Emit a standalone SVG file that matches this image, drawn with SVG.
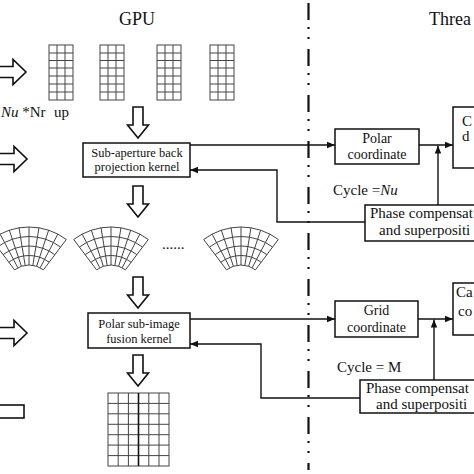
<svg xmlns="http://www.w3.org/2000/svg" xmlns:xlink="http://www.w3.org/1999/xlink" width="474" height="474" viewBox="0 0 474 474">
<style>
text{font-family:"Liberation Serif","DejaVu Serif",serif;fill:#111}
.box{fill:#fff;stroke:#111;stroke-width:1.5}
.hol{fill:#fff;stroke:#111;stroke-width:1.6;stroke-linejoin:miter}
.con{fill:none;stroke:#111;stroke-width:1.4}
.grid{fill:none;stroke:#444;stroke-width:1}
.t12{font-size:12.5px}
.t13{font-size:14px}
.t14{font-size:15px}
</style>
<defs>
<marker id="ah" viewBox="0 0 8 8" refX="8" refY="4" markerWidth="8" markerHeight="8" markerUnits="userSpaceOnUse" orient="auto">
<path d="M0,0.8 L8,4 L0,7.2 Z" fill="#111"/>
</marker>
<g id="col">
<rect x="0" y="0" width="24" height="55" class="grid"/>
<path class="grid" d="M8,0V55M16,0V55M0,8H24M0,15.5H24M0,23H24M0,31H24M0,39H24M0,47H24"/>
</g>
<g id="fanshape" class="grid" stroke="#222">
<path d="M-14.44,-19.17A24,24 0 0 1 14.44,-19.17M-20.16,-26.75A33.5,33.5 0 0 1 20.16,-26.75M-25.88,-34.34A43,43 0 0 1 25.88,-34.34M-31.59,-41.93A52.5,52.5 0 0 1 31.59,-41.93M-37.31,-49.51A62,62 0 0 1 37.31,-49.51"/>
<path d="M14.44,-19.17L37.31,-49.51M11.17,-21.24L28.87,-54.87M7.62,-22.76L19.67,-58.79M3.86,-23.69L9.96,-61.19M0,-24L0,-62M-14.44,-19.17L-37.31,-49.51M-11.17,-21.24L-28.87,-54.87M-7.62,-22.76L-19.67,-58.79M-3.86,-23.69L-9.96,-61.19"/>
</g>
<path id="downarrow" d="M-5,0H5V18H10.5L0,31L-10.5,18H-5Z"/>
<path id="rightarrow" d="M-10,-5.5H13V-12.5L26,0L13,12.5V5.5H-10Z"/>
</defs>

<!-- headings -->
<text x="137" y="25" font-size="18" text-anchor="middle">GPU</text>
<text x="429" y="25" font-size="18">Threa</text>

<!-- divider -->
<line x1="308.5" y1="3" x2="308.5" y2="470" stroke="#111" stroke-width="2.2" stroke-dasharray="17 7 2 8 2 10"/>

<!-- left inputs -->
<g id="in1"><use xlink:href="#rightarrow" x="0" y="72" class="hol"/></g>
<g id="in2"><use xlink:href="#rightarrow" x="1" y="159" class="hol"/></g>
<g id="in3"><use xlink:href="#rightarrow" x="1" y="333" class="hol"/></g>
<g id="in4"><rect x="-3" y="405" width="27" height="13" class="hol"/></g>
<text x="1" y="117" class="t14"><tspan font-style="italic">Nu</tspan> *Nr<tspan x="54">up</tspan></text>

<!-- top data columns -->
<g id="data1"><use xlink:href="#col" x="49" y="45"/></g>
<g id="data2"><use xlink:href="#col" x="100" y="45"/></g>
<g id="data3"><use xlink:href="#col" x="157" y="45"/></g>
<g id="data4"><use xlink:href="#col" x="210" y="45"/></g>

<!-- GPU flow arrows -->
<g id="down1"><use xlink:href="#downarrow" x="138" y="107" class="hol"/></g>
<g id="down2"><use xlink:href="#downarrow" x="138" y="186" class="hol"/></g>
<g id="down3"><use xlink:href="#downarrow" x="138" y="277" class="hol"/></g>
<g id="down4"><use xlink:href="#downarrow" x="138" y="355" class="hol"/></g>

<!-- kernels -->
<g id="bpkernel">
<rect x="83" y="143" width="107" height="34" class="box"/>
<text x="137" y="156.5" class="t12" text-anchor="middle">Sub-aperture back</text>
<text x="137" y="171" class="t12" text-anchor="middle">projection kernel</text>
</g>
<g id="fusionkernel">
<rect x="88" y="313" width="102" height="35" class="box"/>
<text x="139" y="327.5" class="t12" text-anchor="middle">Polar sub-image</text>
<text x="139" y="343" class="t12" text-anchor="middle">fusion kernel</text>
</g>

<!-- polar sub-images -->
<g id="fan1"><use xlink:href="#fanshape" x="29" y="289"/></g>
<g id="fan2"><use xlink:href="#fanshape" x="111" y="289"/></g>
<g id="fan3"><use xlink:href="#fanshape" x="241" y="289"/></g>
<text x="162" y="249" class="t14">......</text>

<!-- final image -->
<g id="image">
<rect x="108" y="393" width="61" height="73" class="grid" stroke="#333"/>
<path class="grid" stroke="#333" d="M118.2,393V466M128.4,393V466M148.8,393V466M159,393V466M108,403.4H169M108,413.8H169M108,424.3H169M108,434.7H169M108,445.1H169M108,455.6H169"/>
<line x1="138.5" y1="393" x2="138.5" y2="466" stroke="#111" stroke-width="1.6"/>
</g>

<!-- thread side -->
<g id="polar">
<rect x="335" y="129" width="84" height="35" class="box"/>
<text x="377" y="142.5" class="t13" text-anchor="middle">Polar</text>
<text x="377" y="159" class="t13" text-anchor="middle">coordinate</text>
</g>
<g id="gridcoord">
<rect x="335" y="301" width="83" height="36" class="box"/>
<text x="376.5" y="315" class="t13" text-anchor="middle">Grid</text>
<text x="376.5" y="332" class="t13" text-anchor="middle">coordinate</text>
</g>
<g id="cbox1">
<rect x="453" y="107" width="30" height="61" class="box"/>
<text x="462" y="126" class="t14">C</text>
<text x="462" y="141" class="t14">d</text>
</g>
<g id="cbox2">
<rect x="453" y="283" width="30" height="52" class="box"/>
<text x="456" y="297" class="t14">Ca</text>
<text x="458" y="316" class="t14">co</text>
</g>
<g id="phase1">
<rect x="365" y="205" width="120" height="36" class="box"/>
<text x="370" y="218" class="t14">Phase compensat</text>
<text x="379" y="235" class="t14">and superpositi</text>
</g>
<g id="phase2">
<rect x="360" y="380" width="125" height="33" class="box"/>
<text x="366" y="393" class="t14">Phase compensat</text>
<text x="376" y="409" class="t14">and superpositi</text>
</g>
<text x="333" y="195" class="t14">Cycle =<tspan font-style="italic">Nu</tspan></text>
<text x="337" y="372" class="t14">Cycle = M</text>

<!-- connectors -->
<g id="connectors" class="con">
<path d="M190,145H335" marker-end="url(#ah)"/>
<path d="M365,222H277V170H190" marker-end="url(#ah)"/>
<path d="M419,145H453" marker-end="url(#ah)"/>
<path d="M438,205V145.5" marker-end="url(#ah)"/>
<path d="M190,319H335" marker-end="url(#ah)"/>
<path d="M360,398H261V344H190" marker-end="url(#ah)"/>
<path d="M418,319H453" marker-end="url(#ah)"/>
<path d="M434,380V319.5" marker-end="url(#ah)"/>
</g>
</svg>
